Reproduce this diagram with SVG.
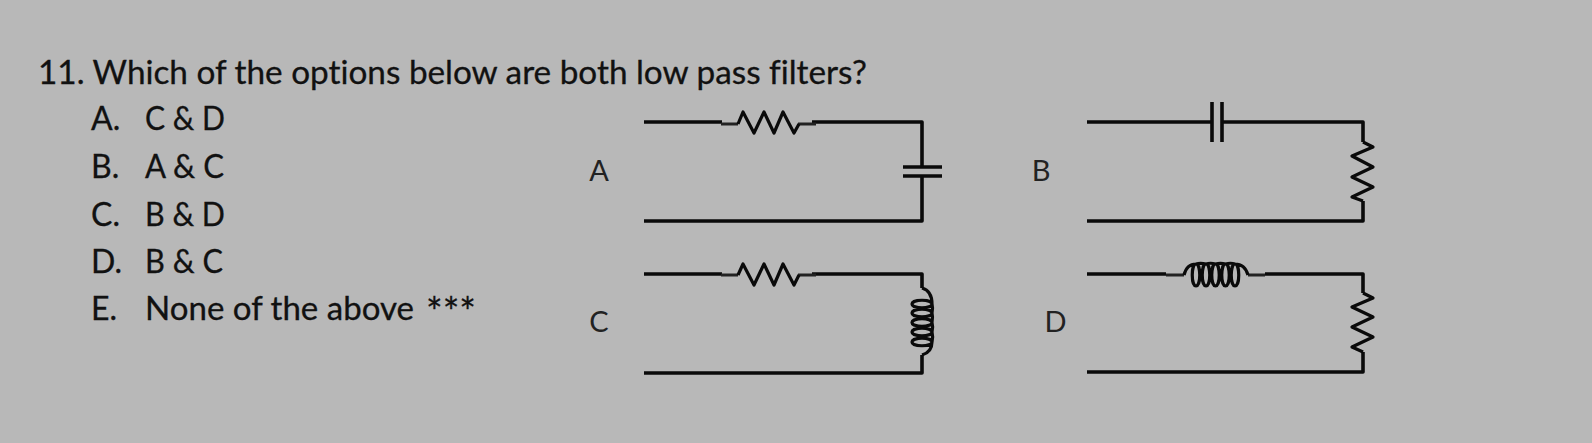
<svg xmlns="http://www.w3.org/2000/svg" width="1592" height="443" viewBox="0 0 1592 443">
<style>
.t{font-family:"Lato","Open Sans","Liberation Sans",sans-serif;font-size:32px;fill:#111;stroke:#111;stroke-width:.3;font-variant-ligatures:none}
.l{font-family:"Lato","Open Sans","Liberation Sans",sans-serif;font-size:29px;fill:#222;text-anchor:middle}
.w{fill:none;stroke:#0a0a0a;stroke-width:3.6;stroke-linejoin:round}
.r{fill:none;stroke:#0a0a0a;stroke-width:3.2;stroke-linejoin:round}
.lead{fill:none;stroke:#222;stroke-width:3}
</style>
<rect width="1592" height="443" fill="#b8b8b8"/>
<g id="question">
<text class="t" x="38" y="83.500" textLength="829" lengthAdjust="spacingAndGlyphs">11. Which of the options below are both low pass filters?</text>
<text class="t" x="91" y="130">A.</text><text class="t" x="145" y="130" textLength="80" lengthAdjust="spacingAndGlyphs">C &amp; D</text>
<text class="t" x="91" y="178">B.</text><text class="t" x="145" y="178" textLength="79" lengthAdjust="spacingAndGlyphs">A &amp; C</text>
<text class="t" x="91" y="226">C.</text><text class="t" x="145" y="226" textLength="80" lengthAdjust="spacingAndGlyphs">B &amp; D</text>
<text class="t" x="91" y="273">D.</text><text class="t" x="145" y="273" textLength="78" lengthAdjust="spacingAndGlyphs">B &amp; C</text>
<text class="t" x="91" y="320">E.</text><text class="t" y="320"><tspan x="145" textLength="269" lengthAdjust="spacingAndGlyphs">None of the above</tspan><tspan x="426" y="327" font-size="40" textLength="50" lengthAdjust="spacingAndGlyphs">***</tspan></text>
</g>
<g id="circuit-a">
<text class="l" x="599" y="181">A</text>
<path class="w" d="M644 122H722M812 122H922V166M903 167H942M903 176H942M922 176V221H644"/>
<path class="lead" d="M721 124H738M798 124H816"/>
<path class="r" d="M738 124L743 112L754 133L764 112L774 133L783 112L794 133L799 124"/>
</g>
<g id="circuit-b">
<text class="l" x="1041" y="181">B</text>
<path class="w" d="M1087 122H1212M1212 102V142M1222 102V142M1222 122H1363V142M1363 201V221H1087"/>
<path class="r" d="M1363 142L1373 147L1352 156L1373 167L1352 177L1373 187L1352 197L1363 201"/>
</g>
<g id="circuit-c">
<text class="l" x="599" y="331.500">C</text>
<path class="w" d="M644 274H722M812 274H922V288M922 355V373H644"/>
<path class="lead" d="M721 275H738M798 275H816"/>
<path class="r" d="M738 275L743 264L754 285L764 264L774 285L783 264L794 285L799 275"/>
<path class="r" d="M922 288C929 290 932 295 932 304C932 309 912 309 912 304C912 299 932 299 932 304C933 308 933 309 932 313C932 318 912 318 912 313C912 308 932 308 932 313C933 317 933 318 932 322.500C932 327.500 912 327.500 912 322.500C912 317.500 932 317.500 932 322.500C933 326 933 328 932 332C932 337 912 337 912 332C912 327 932 327 932 332C933 336 933 338 932 342C932 347 912 347 912 342C912 337 932 337 932 342C932 349 929 353 922 355"/>
</g>
<g id="circuit-d">
<text class="l" x="1055.500" y="331.500">D</text>
<path class="w" d="M1087 274H1166M1265 274H1363V293M1363 352V372H1087"/>
<path class="lead" d="M1166 275H1184M1248 275H1265"/>
<path class="r" d="M1363 293L1373 298L1352 307L1373 317L1352 327L1373 337L1352 347L1363 352"/>
<path class="r" d="M1184 275C1186 267 1190 264 1196 264C1201 264 1201 286 1196 286C1191 286 1191 264 1196 264C1199 263 1202 263 1206 264C1211 264 1211 286 1206 286C1201 286 1201 264 1206 264C1209 263 1212 263 1215.500 264C1220.500 264 1220.500 286 1215.500 286C1210.500 286 1210.500 264 1215.500 264C1219 263 1222 263 1225.500 264C1230.500 264 1230.500 286 1225.500 286C1220.500 286 1220.500 264 1225.500 264C1229 263 1232 263 1235 264C1240 264 1240 286 1235 286C1230 286 1230 264 1235 264C1242 264 1246 268 1248 275"/>
</g>
</svg>
